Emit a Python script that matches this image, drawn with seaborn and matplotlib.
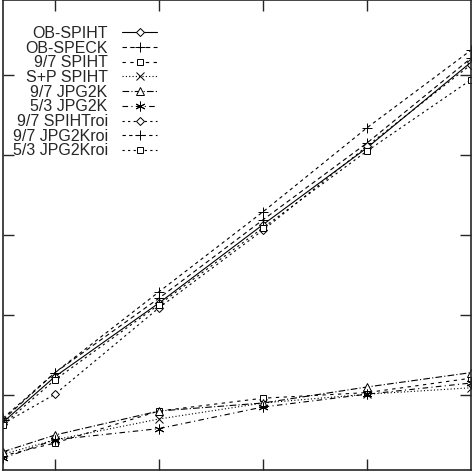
import matplotlib
matplotlib.use("Agg")
import matplotlib.pyplot as plt
import seaborn as sns
import pandas as pd

sns.set_style("ticks")
plt.rcParams['font.family'] = ['Liberation Sans', 'DejaVu Sans']

x = [0, 0.5, 1.5, 2.5, 3.5, 4.5]
names = ["OB-SPIHT", "OB-SPECK", "9/7 SPIHT", "S+P SPIHT", "9/7 JPG2K",
         "5/3 JPG2K", "9/7 SPIHTroi", "9/7 JPG2Kroi", "5/3 JPG2Kroi"]
ob_spiht = [0.66, 1.23, 2.15, 3.13, 4.09, 5.16]
ob_speck = [0.69, 1.28, 2.21, 3.19, 4.15, 5.21]
spiht97 = [0.24, 0.40, 0.80, 0.96, 1.03, 1.21]
spiht_sp = [0.26, 0.44, 0.70, 0.90, 1.01, 1.09]
jpg2k97 = [0.29, 0.50, 0.80, 0.90, 1.10, 1.28]
jpg2k53 = [0.21, 0.44, 0.58, 0.85, 1.01, 1.15]
spihtroi97 = [0.64, 1.01, 2.09, 3.06, 4.11, 5.13]
jpg2kroi97 = [0.71, 1.28, 2.29, 3.29, 4.34, 5.31]
jpg2kroi53 = [0.63, 1.19, 2.13, 3.09, 4.05, 4.94]
series = [ob_spiht, ob_speck, spiht97, spiht_sp, jpg2k97, jpg2k53,
          spihtroi97, jpg2kroi97, jpg2kroi53]

styles = [("D", "-", 4), ("+", (0, (4, 3)), 7), ("s", (0, (3, 4)), 5),
          ("x", (0, (1, 2)), 6), ("^", (0, (6, 2, 1, 2)), 6),
          ((6, 2, 0), (0, (5, 3, 1, 3)), 7), ("D", (0, (2, 3)), 4),
          ("+", (0, (3, 3)), 7), ("s", (0, (2, 3)), 5)]

fig = plt.figure(figsize=(4.74, 4.75), dpi=100)
ax = fig.add_axes([3/474, 5/475, 468/474, 470/475])
for n, s, (m, ls, ms) in zip(names, series, styles):
    df = pd.DataFrame({"x": x, "y": s})
    sns.lineplot(data=df, x="x", y="y", ax=ax, color="black", lw=0.8,
                 linestyle=ls, marker=m, markersize=ms, markerfacecolor="white",
                 markeredgecolor="black", markeredgewidth=0.7, label=n)

ax.set_xlim(0, 4.5)
ax.set_ylim(5/80, 5.9375)
ax.set_xticks([0.5, 1.5, 2.5, 3.5])
ax.set_yticks([1, 2, 3, 4, 5])
ax.tick_params(direction="in", length=8, top=True, right=True,
               labelbottom=False, labelleft=False, width=1)
ax.set_xlabel("")
ax.set_ylabel("")
for sp in ax.spines.values():
    sp.set_linewidth(1.2)
leg = ax.legend(loc="upper left", bbox_to_anchor=(0.0, 0.965), frameon=False,
                markerfirst=False, fontsize=11.5, handlelength=2.2,
                labelspacing=-0.02, handletextpad=0.9, borderaxespad=0.2)
for t in leg.get_texts():
    t.set_ha("right")
leg._legend_box.align = "right"
fig.savefig("out.png", dpi=100)
